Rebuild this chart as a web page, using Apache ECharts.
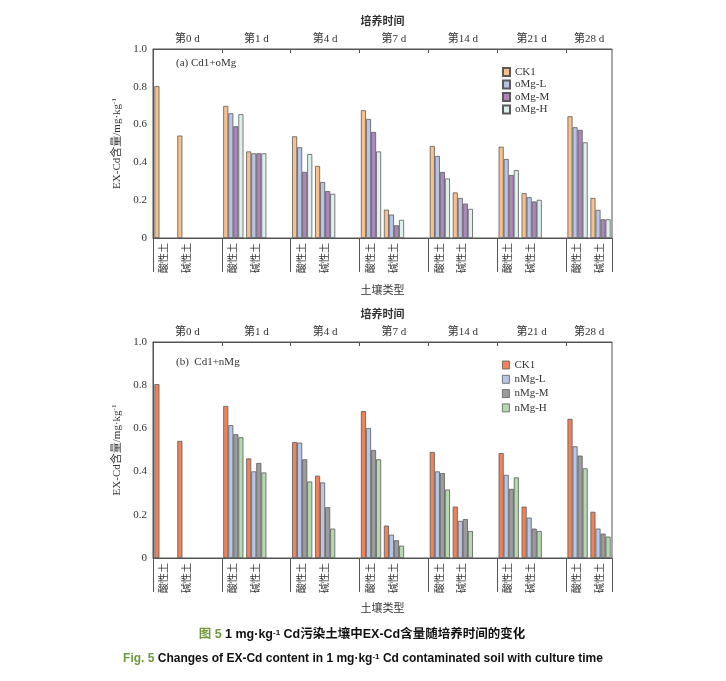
<!DOCTYPE html>
<html>
<head>
<meta charset="utf-8">
<script src="https://cdn.jsdelivr.net/npm/echarts@6/dist/echarts.min.js"></script>
<style>
  html, body { margin: 0; padding: 0; background: #fff; }
  #chart { width: 726px; height: 681px; }
</style>
</head>
<body>
<div id="chart"></div>
<script>
// 培养时间 / 土壤类型
const days = ['第0 d', '第1 d', '第4 d', '第7 d', '第14 d', '第21 d', '第28 d']
const soilTypes = ['酸性土', '碱性土']

// (a) Cd1+oMg  —— 每天两个值：酸性土, 碱性土
const oNames = ['CK1', 'oMg-L', 'oMg-M', 'oMg-H']
const oCK1 = [0.804, 0.542, 0.699, 0.458, 0.538, 0.381, 0.676, 0.150, 0.487, 0.241, 0.483, 0.237, 0.644, 0.212]
const oL   = [null, null, 0.660, 0.448, 0.480, 0.296, 0.630, 0.124, 0.434, 0.212, 0.418, 0.216, 0.586, 0.149]
const oM   = [null, null, 0.591, 0.448, 0.350, 0.248, 0.561, 0.067, 0.349, 0.182, 0.333, 0.193, 0.572, 0.099]
const oH   = [null, null, 0.655, 0.448, 0.444, 0.234, 0.458, 0.096, 0.315, 0.154, 0.359, 0.202, 0.506, 0.099]

// (b) Cd1+nMg
const nNames = ['CK1', 'nMg-L', 'nMg-M', 'nMg-H']
const nCK1 = [0.805, 0.542, 0.704, 0.461, 0.537, 0.381, 0.680, 0.150, 0.491, 0.238, 0.486, 0.238, 0.644, 0.214]
const nL   = [null, null, 0.615, 0.401, 0.534, 0.350, 0.602, 0.108, 0.401, 0.172, 0.385, 0.187, 0.517, 0.136]
const nM   = [null, null, 0.573, 0.440, 0.457, 0.235, 0.500, 0.082, 0.393, 0.180, 0.320, 0.136, 0.474, 0.113]
const nH   = [null, null, 0.559, 0.396, 0.354, 0.136, 0.457, 0.057, 0.317, 0.125, 0.373, 0.125, 0.415, 0.099]

const oColors = ['#f8c08c', '#b7c4e6', '#ad86bb', '#def0ee']
const nColors = ['#f0825a', '#b5c6e6', '#9c9c9c', '#b4d9b1']

// 每组：酸性土、碱性土、空位（最后一组无空位）
const toSlots = arr => {
  const out = []
  days.forEach((d, i) => {
    out.push(arr[2 * i], arr[2 * i + 1])
    if (i < days.length - 1) out.push(null)
  })
  return out
}
const categories = toSlots(days.flatMap(() => soilTypes)).map(v => v || '')
const nSlots = categories.length
const groupTicks = days.slice(1).map((d, i) => 3 * (i + 1))
const groupCenters = days.map((d, i) => i < days.length - 1 ? 3 * i + 1.5 : 3 * i + 1)

const serif = '"Liberation Serif", "Noto Sans CJK SC", serif'
const sans = '"Liberation Sans", "Noto Sans CJK SC", sans-serif'
const axisColor = '#555'

const makeAxes = (grid, bottomGap) => [
  {
    type: 'category', gridIndex: grid, position: 'bottom', data: categories,
    axisLine: { lineStyle: { color: axisColor } },
    axisTick: { show: true, length: 34, interval: i => i % 3 === 0, lineStyle: { color: axisColor } },
    axisLabel: { interval: 0, rotate: 90, margin: 5, fontSize: 10, color: '#333', fontFamily: serif },
    name: '土壤类型', nameLocation: 'middle', nameGap: bottomGap,
    nameTextStyle: { fontSize: 11, color: '#333', fontFamily: serif }
  },
  {
    type: 'value', gridIndex: grid, position: 'top', min: 0, max: nSlots,
    axisLine: { show: true, lineStyle: { color: axisColor } },
    axisTick: { show: true, inside: true, length: 4, customValues: groupTicks, lineStyle: { color: axisColor } },
    axisLabel: {
      customValues: groupCenters, margin: 4, fontSize: 11, color: '#333', fontFamily: serif,
      formatter: v => days[groupCenters.indexOf(v)] || ''
    },
    splitLine: { show: false },
    name: '培养时间', nameLocation: 'middle', nameGap: 21,
    nameTextStyle: { fontSize: 11, color: '#333', fontWeight: 'bold', fontFamily: serif, align: 'center' }
  }
]

const makeY = grid => ({
  type: 'value', gridIndex: grid, min: 0, max: 1, interval: 0.2,
  axisLine: { show: true, lineStyle: { color: axisColor } },
  axisTick: { show: false },
  splitLine: { show: false },
  axisLabel: { fontSize: 11, color: '#333', margin: 6, fontFamily: serif,
    formatter: v => v === 0 ? '0' : v.toFixed(1) },
  name: 'EX-Cd含量/mg·kg{sup|-1}', nameLocation: 'middle', nameGap: 28, nameRotate: 90,
  nameTextStyle: { fontSize: 11, color: '#333', fontFamily: serif,
    rich: { sup: { fontSize: 7, verticalAlign: 'top', color: '#333', padding: [0, 0, 5, 0] } } }
})

const makeBars = (names, arrays, colors, xi, yi) => names.map((name, k) => ({
  name, type: 'bar', xAxisIndex: xi, yAxisIndex: yi,
  data: toSlots(arrays[k]),
  barGap: '0%', barCategoryGap: '12%',
  itemStyle: { color: colors[k], borderColor: '#5a5a5a', borderWidth: 0.8 },
  emphasis: { disabled: true }
}))

const legendBase = {
  orient: 'vertical', left: 502, padding: 0, icon: 'rect', itemWidth: 7, itemHeight: 8,
  textStyle: { fontSize: 11, color: '#333', fontFamily: serif, lineHeight: 12 }
}

const chart = echarts.init(document.getElementById('chart'))
chart.setOption({
  animation: false,
  backgroundColor: '#fff',
  grid: [
    { left: 153, right: 114, top: 49, height: 189, show: true, borderColor: axisColor, borderWidth: 1 },
    { left: 153, right: 114, top: 342, height: 216, show: true, borderColor: axisColor, borderWidth: 1 }
  ],
  xAxis: [...makeAxes(0, 48), ...makeAxes(1, 46)],
  yAxis: [makeY(0), makeY(1)],
  legend: [
    { ...legendBase, top: 66, itemGap: 0.5, data: oNames },
    { ...legendBase, top: 359, itemGap: 2.3,
      data: nNames.map((n, k) => ({ name: n, itemStyle: { color: nColors[k], borderColor: '#5a5a5a', borderWidth: 0.8 } })) }
  ],
  series: [
    ...makeBars(oNames, [oCK1, oL, oM, oH], oColors, 0, 0),
    ...makeBars(nNames, [nCK1, nL, nM, nH], nColors, 2, 1)
  ],
  graphic: [
    { type: 'text', left: 176, top: 58, style: { text: '(a) Cd1+oMg', fontSize: 11, fill: '#333', fontFamily: serif } },
    { type: 'text', left: 176, top: 357, style: { text: '(b)  Cd1+nMg', fontSize: 11, fill: '#333', fontFamily: serif } },
    {
      type: 'text', x: 362, y: 635,
      style: {
        text: '{g|图 5} {b|1 mg·kg}{sup|-1}{b| Cd污染土壤中EX-Cd含量随培养时间的变化}',
        align: 'center', verticalAlign: 'middle',
        rich: {
          g: { fontSize: 12.5, fontWeight: 'bold', fill: '#6f9a3c', fontFamily: sans },
          b: { fontSize: 12.5, fontWeight: 'bold', fill: '#111', fontFamily: sans },
          sup: { fontSize: 8, fontWeight: 'bold', fill: '#111', verticalAlign: 'top', fontFamily: sans }
        }
      }
    },
    {
      type: 'text', x: 363, y: 659,
      style: {
        text: '{g|Fig. 5} {b|Changes of EX-Cd content in 1 mg·kg}{sup|-1}{b| Cd contaminated soil with culture time}',
        align: 'center', verticalAlign: 'middle',
        rich: {
          g: { fontSize: 12, fontWeight: 'bold', fill: '#6f9a3c', fontFamily: sans },
          b: { fontSize: 12, fontWeight: 'bold', fill: '#111', fontFamily: sans },
          sup: { fontSize: 8, fontWeight: 'bold', fill: '#111', verticalAlign: 'top', fontFamily: sans }
        }
      }
    }
  ]
})
</script>
</body>
</html>
